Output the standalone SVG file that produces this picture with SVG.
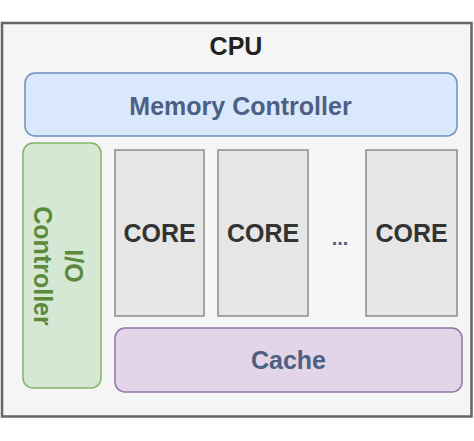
<svg xmlns="http://www.w3.org/2000/svg" width="474" height="441" viewBox="0 0 474 441">
<style>
text{font-family:"Liberation Sans",Arial,sans-serif;font-weight:bold;font-size:25px;text-anchor:middle}
.core rect{fill:#e6e6e6;stroke:#8c8c8c;stroke-width:1.5}
.core text{fill:#333333}
.blue{fill:#4d5f82}
</style>
<rect width="474" height="441" fill="#ffffff"/>
<g id="cpu">
<rect x="2" y="23" width="469.5" height="393.5" fill="#f5f5f5" stroke="#666666" stroke-width="2.5"/>
<text x="236" y="55" fill="#222222">CPU</text>
</g>
<g id="memory-controller">
<rect x="25" y="73" width="432" height="63" rx="10" fill="#dae8fc" stroke="#6c8ebf" stroke-width="1.5"/>
<text class="blue" x="240.5" y="115">Memory Controller</text>
</g>
<g id="io-controller">
<rect x="23" y="143" width="78" height="245" rx="10" fill="#d5e8d4" stroke="#82b366" stroke-width="1.5"/>
<g transform="translate(62,266) rotate(90)" fill="#5b8a3c">
<text x="0" y="-3">I/O</text>
<text x="0" y="28">Controller</text>
</g>
</g>
<g id="core1" class="core">
<rect x="115" y="150" width="89" height="166"/>
<text x="159.5" y="242">CORE</text>
</g>
<g id="core2" class="core">
<rect x="218" y="150" width="90" height="166"/>
<text x="263" y="242">CORE</text>
</g>
<g id="ellipsis">
<text class="blue" x="340" y="245" style="font-size:20px">...</text>
</g>
<g id="core3" class="core">
<rect x="366" y="150" width="91" height="166"/>
<text x="411.5" y="242">CORE</text>
</g>
<g id="cache">
<rect x="115" y="328" width="347" height="64" rx="10" fill="#e1d5e7" stroke="#9673a6" stroke-width="1.5"/>
<text class="blue" x="288.5" y="369">Cache</text>
</g>
<g id="connectors"/>
</svg>
